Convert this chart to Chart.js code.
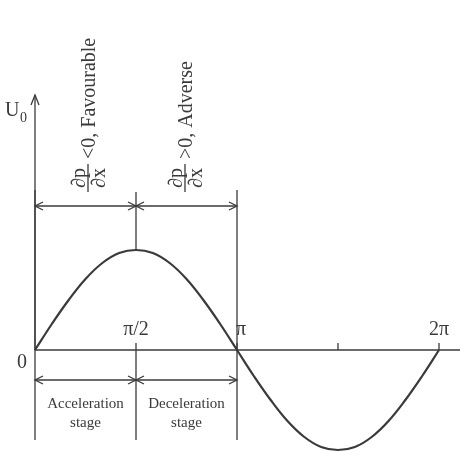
<!DOCTYPE html>
<html>
<head>
<script src="https://cdn.jsdelivr.net/npm/chart.js@4"></script>
<style>
  body { margin: 0; background: #fff; }
  #wrap { width: 474px; height: 474px; }
</style>
</head>
<body>
<div id="wrap"><canvas id="myChart"></canvas></div>
<script>
// Velocity profile (x in radians, U in peak units)
const xValues = [0, 0.2618, 0.5236, 0.7854, 1.0472, 1.309, 1.5708, 1.8326, 2.0944, 2.3562, 2.618, 2.8798, 3.1416,
  3.4034, 3.6652, 3.927, 4.1888, 4.4506, 4.7124, 4.9742, 5.236, 5.4978, 5.7596, 6.0214, 6.2832];
const uValues = [0, 0.26, 0.5, 0.71, 0.87, 0.97, 1, 0.97, 0.87, 0.71, 0.5, 0.26, 0,
  -0.26, -0.5, -0.71, -0.87, -0.97, -1, -0.97, -0.87, -0.71, -0.5, -0.26, 0];
const tickValues = [Math.PI / 2, Math.PI, 3 * Math.PI / 2, 2 * Math.PI];
const tickLabels = ["π/2", "π", "", "2π"];

const ink = "#3a3a3a";
const serif = "'Liberation Serif', 'DejaVu Serif', serif";

function arrowHead(ctx, x, y, dir) {
  // dir: 1 points right, -1 left, 2 up
  ctx.beginPath();
  if (dir === 2) {
    ctx.moveTo(x - 4, y + 10); ctx.lineTo(x, y); ctx.lineTo(x + 4, y + 10);
  } else {
    ctx.moveTo(x - dir * 8, y - 4); ctx.lineTo(x, y); ctx.lineTo(x - dir * 8, y + 4);
  }
  ctx.stroke();
}

function dimLine(ctx, x1, x2, y) {
  ctx.beginPath(); ctx.moveTo(x1, y); ctx.lineTo(x2, y); ctx.stroke();
  arrowHead(ctx, x1, y, -1);
  arrowHead(ctx, x2, y, 1);
}

function rotatedLabel(ctx, x, yBottom, sign, rest) {
  ctx.save();
  ctx.translate(x, yBottom);
  ctx.rotate(-Math.PI / 2);
  ctx.font = "20px " + serif;
  ctx.textAlign = "center";
  ctx.textBaseline = "alphabetic";
  ctx.fillText("∂p", 14, -3);
  ctx.textBaseline = "top";
  ctx.fillText("∂x", 14, 2);
  ctx.beginPath(); ctx.moveTo(0, 0); ctx.lineTo(28, 0); ctx.stroke();
  ctx.textAlign = "left";
  ctx.textBaseline = "middle";
  ctx.fillText(sign + rest, 33, 2);
  ctx.restore();
}

const annotations = {
  id: "annotations",
  afterDraw: (chart) => {
    const {ctx} = chart;
    const xs = chart.scales.x, ys = chart.scales.y;
    const x0 = xs.getPixelForValue(0), y0 = ys.getPixelForValue(0);
    const xHalf = xs.getPixelForValue(Math.PI / 2), xPi = xs.getPixelForValue(Math.PI);
    const yTop = ys.getPixelForValue(1);
    ctx.save();
    ctx.strokeStyle = ink; ctx.fillStyle = ink; ctx.lineWidth = 1.3;
    // axes
    ctx.beginPath(); ctx.moveTo(x0, y0); ctx.lineTo(460, y0); ctx.stroke();
    ctx.beginPath(); ctx.moveTo(x0, y0); ctx.lineTo(x0, 95); ctx.stroke();
    arrowHead(ctx, x0, 95, 2);
    // ticks
    tickValues.forEach((v, i) => {
      const px = xs.getPixelForValue(v);
      ctx.beginPath(); ctx.moveTo(px, y0); ctx.lineTo(px, y0 - 7); ctx.stroke();
      ctx.font = "20px " + serif; ctx.textAlign = "center"; ctx.textBaseline = "bottom";
      ctx.fillText(tickLabels[i], px + (i === 1 ? 4 : 0), y0 - 10);
    });
    ctx.font = "20px " + serif; ctx.textAlign = "left"; ctx.textBaseline = "alphabetic";
    ctx.fillText("0", 17, 368);
    ctx.fillText("U", 5, 116);
    ctx.font = "14px " + serif; ctx.fillText("0", 20, 122);
    // upper dimension lines
    ctx.beginPath(); ctx.moveTo(x0, 190); ctx.lineTo(x0, y0); ctx.stroke();
    ctx.beginPath(); ctx.moveTo(xHalf, 192); ctx.lineTo(xHalf, yTop); ctx.stroke();
    ctx.beginPath(); ctx.moveTo(xPi, 190); ctx.lineTo(xPi, y0); ctx.stroke();
    dimLine(ctx, x0, xHalf, 206);
    dimLine(ctx, xHalf, xPi, 206);
    rotatedLabel(ctx, 88, 192, "<0, ", "Favourable");
    rotatedLabel(ctx, 185, 192, ">0, ", "Adverse");
    // lower dimension lines
    [x0, xHalf, xPi].forEach(px => {
      ctx.beginPath(); ctx.moveTo(px, y0); ctx.lineTo(px, 440); ctx.stroke();
    });
    dimLine(ctx, x0, xHalf, 380);
    dimLine(ctx, xHalf, xPi, 380);
    ctx.font = "15px " + serif; ctx.textAlign = "center"; ctx.textBaseline = "alphabetic";
    ctx.fillText("Acceleration", (x0 + xHalf) / 2, 408);
    ctx.fillText("stage", (x0 + xHalf) / 2, 427);
    ctx.fillText("Deceleration", (xHalf + xPi) / 2, 408);
    ctx.fillText("stage", (xHalf + xPi) / 2, 427);
    ctx.restore();
  }
};

const config = {
  type: "line",
  data: {
    datasets: [{
      data: xValues.map((x, i) => ({x, y: uValues[i]})),
      borderColor: ink,
      borderWidth: 2.2,
      pointRadius: 0,
      tension: 0.4,
      fill: false
    }]
  },
  options: {
    responsive: true,
    maintainAspectRatio: false,
    animation: false,
    layout: {padding: 0},
    plugins: {legend: {display: false}, tooltip: {enabled: false}},
    scales: {
      x: {type: "linear", min: -0.5443, max: 6.8274, display: false},
      y: {min: -1.24, max: 3.5, display: false}
    }
  },
  plugins: [annotations]
};

new Chart(document.querySelector("#myChart"), config);
</script>
</body>
</html>
